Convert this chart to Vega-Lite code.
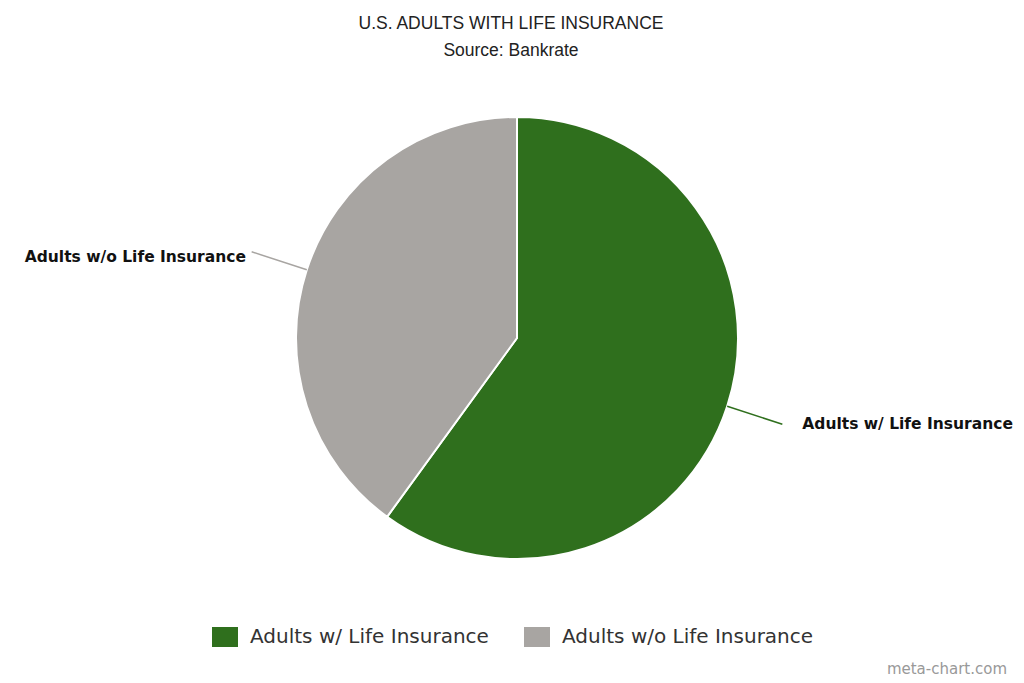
{
  "$schema": "https://vega.github.io/schema/vega-lite/v6.json",
  "width": 1014,
  "height": 516,
  "autosize": {"type": "none"},
  "padding": {"left": 10, "top": 80, "right": 0, "bottom": 87},
  "background": "white",
  "title": {
    "text": "U.S. ADULTS WITH LIFE INSURANCE",
    "subtitle": "Source: Bankrate",
    "anchor": "middle",
    "dx": -6,
    "font": "Liberation Sans",
    "subtitleFont": "Liberation Sans",
    "fontSize": 17.5,
    "subtitleFontSize": 17.5,
    "fontWeight": "normal",
    "color": "#222222",
    "subtitleColor": "#222222",
    "subtitlePadding": 9,
    "offset": 21
  },
  "config": {
    "view": {"stroke": null},
    "font": "Liberation Sans"
  },
  "data": {
    "values": [
      {"category": "Adults w/ Life Insurance", "value": 60},
      {"category": "Adults w/o Life Insurance", "value": 40}
    ]
  },
  "encoding": {
    "color": {
      "field": "category",
      "type": "nominal",
      "scale": {
        "domain": ["Adults w/ Life Insurance", "Adults w/o Life Insurance"],
        "range": ["#2f6f1d", "#a8a5a2"]
      },
      "legend": {
        "orient": "none",
        "direction": "horizontal",
        "legendX": 205,
        "legendY": 547,
        "title": null,
        "symbolType": "M-1.3,-1H1.3V1H-1.3Z",
        "symbolSize": 400,
        "symbolStrokeWidth": 0,
        "symbolOpacity": 1,
        "labelFont": "DejaVu Sans",
        "labelFontSize": 20,
        "labelColor": "#333333",
        "labelOffset": 15,
        "labelLimit": 400,
        "columnPadding": 35
      }
    }
  },
  "layer": [
    {
      "mark": {"type": "arc", "radius": 221, "stroke": "white", "strokeWidth": 2},
      "encoding": {
        "theta": {"field": "value", "type": "quantitative", "stack": true}
      }
    },
    {
      "transform": [
        {"stack": "value", "groupby": [], "sort": [{"field": "category"}], "as": ["v0", "v1"]}
      ],
      "mark": {
        "type": "arc",
        "filled": false,
        "radius": 279,
        "radius2": 221,
        "thetaOffset": 0.6,
        "theta2Offset": -0.6,
        "padAngle": 3.1416,
        "strokeWidth": 1.5
      },
      "encoding": {
        "theta": {"field": "v0", "type": "quantitative"},
        "theta2": {"field": "v1"}
      }
    },
    {
      "mark": {
        "type": "text",
        "font": "DejaVu Sans",
        "fontSize": 15.5,
        "fontWeight": "bold",
        "baseline": "middle",
        "align": {"expr": "datum.category === 'Adults w/ Life Insurance' ? 'left' : 'right'"},
        "radius": {"expr": "datum.category === 'Adults w/ Life Insurance' ? 300 : 285"},
        "dy": {"expr": "datum.category === 'Adults w/ Life Insurance' ? -7 : 7"}
      },
      "encoding": {
        "theta": {"field": "value", "type": "quantitative", "stack": true},
        "text": {"field": "category"},
        "color": {"value": "#111111"}
      }
    },
    {
      "data": {"values": [{"mark": "meta-chart.com"}]},
      "mark": {
        "type": "text",
        "font": "DejaVu Sans",
        "fontSize": 15,
        "color": "#999999",
        "align": "right",
        "baseline": "middle",
        "x": {"expr": "width - 17"},
        "y": {"expr": "height + 73"}
      },
      "encoding": {
        "text": {"field": "mark"},
        "color": null
      }
    }
  ]
}
